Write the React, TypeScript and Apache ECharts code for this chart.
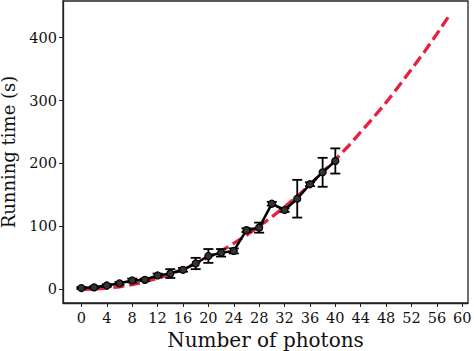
import React, { useEffect, useRef } from "react";
import * as echarts from "echarts";

const photons = [0, 2, 4, 6, 8, 10, 12, 14, 16, 18, 20, 22, 24, 26, 28, 30, 32, 34, 36, 38, 40];
const runTime = [2, 3, 6, 9.5, 14, 15, 22, 25, 31, 41, 53, 58, 61, 94, 98, 136, 126, 144, 167, 186, 204];
const runErr = [1.5, 1.5, 2, 2, 3, 2, 3, 7, 3, 9, 11, 6, 4, 3, 8, 3, 3, 30, 3, 23, 20];

const fitX = [0, 2, 4, 6, 8, 10, 12, 14, 16, 18, 20, 22, 24, 26, 28, 30, 32, 34, 36, 38, 40, 42, 44, 46, 48, 50, 52, 54, 56, 58];
const fitY = [0, 0.3, 1.7, 4, 7.5, 12, 17.6, 24, 32, 41, 50.4, 61, 73, 86, 100, 115, 131, 148, 166, 186, 206, 227, 250, 273, 297, 323, 350, 377, 406, 436];

const xTicks = [0, 4, 8, 12, 16, 20, 24, 28, 32, 36, 40, 44, 48, 52, 56, 60];
const yTicks = [0, 100, 200, 300, 400];

const FONT = "DejaVu Serif";
const INK = "#111";

export default function App() {
  const ref = useRef<HTMLDivElement>(null);
  useEffect(() => {
    if (!ref.current) return;
    const chart = echarts.init(ref.current, null, { renderer: "svg" });
    const errData = photons.map((x, i) => [x, runTime[i] - runErr[i], runTime[i] + runErr[i]]);
    chart.setOption({
      animation: false,
      backgroundColor: "#fff",
      grid: {
        left: 63,
        right: 6,
        top: 1,
        bottom: 48,
        containLabel: false,
        outerBoundsMode: "none",
        show: true,
        borderColor: "#222",
        borderWidth: 1.3,
        backgroundColor: "transparent",
      },
      xAxis: {
        type: "value",
        min: -2.9,
        max: 60.9,
        name: "Number of photons",
        nameLocation: "middle",
        nameGap: 26,
        nameTextStyle: { fontFamily: FONT, fontSize: 20, color: INK },
        axisLine: { show: true, onZero: false, lineStyle: { color: "#222", width: 1.3 } },
        axisTick: { show: true, length: 4, inside: false, customValues: xTicks, lineStyle: { color: "#222", width: 1 } },
        axisLabel: { customValues: xTicks, fontFamily: FONT, fontSize: 14.5, color: INK, margin: 7 },
        splitLine: { show: false },
      },
      yAxis: {
        type: "value",
        min: -21.8,
        max: 458.3,
        name: "Running time (s)",
        nameLocation: "middle",
        nameGap: 34,
        nameTextStyle: { fontFamily: FONT, fontSize: 18, color: INK, lineHeight: 20 },
        axisLine: { show: true, onZero: false, lineStyle: { color: "#222", width: 1.3 } },
        axisTick: { show: true, length: 4, inside: false, customValues: yTicks, lineStyle: { color: "#222", width: 1 } },
        axisLabel: { customValues: yTicks, fontFamily: FONT, fontSize: 14.5, color: INK, margin: 6 },
        splitLine: { show: false },
      },
      series: [
        {
          type: "line",
          data: fitX.map((x, i) => [x, fitY[i]]),
          showSymbol: false,
          smooth: false,
          z: 1,
          lineStyle: { color: "#e8203f", width: 3.3, type: [11, 5] },
        },
        {
          type: "custom",
          z: 3,
          data: errData,
          renderItem: (params: any, api: any) => {
            const x = api.value(0);
            const lo = api.coord([x, api.value(1)]);
            const hi = api.coord([x, api.value(2)]);
            const cw = 5;
            const style = { stroke: "#000", lineWidth: 1.8 };
            return {
              type: "group",
              children: [
                { type: "line", shape: { x1: lo[0], y1: lo[1], x2: hi[0], y2: hi[1] }, style },
                { type: "line", shape: { x1: lo[0] - cw, y1: lo[1], x2: lo[0] + cw, y2: lo[1] }, style },
                { type: "line", shape: { x1: hi[0] - cw, y1: hi[1], x2: hi[0] + cw, y2: hi[1] }, style },
              ],
            };
          },
        },
        {
          type: "line",
          data: photons.map((x, i) => [x, runTime[i]]),
          z: 4,
          symbol: "circle",
          symbolSize: 7,
          showSymbol: true,
          lineStyle: { color: "#000", width: 2.6 },
          itemStyle: { color: "#333", borderColor: "#000", borderWidth: 1.2 },
        },
      ],
    });
    return () => chart.dispose();
  }, []);
  return <div ref={ref} style={{ width: 474, height: 351, position: "absolute", left: 0, top: 0 }} />;
}
